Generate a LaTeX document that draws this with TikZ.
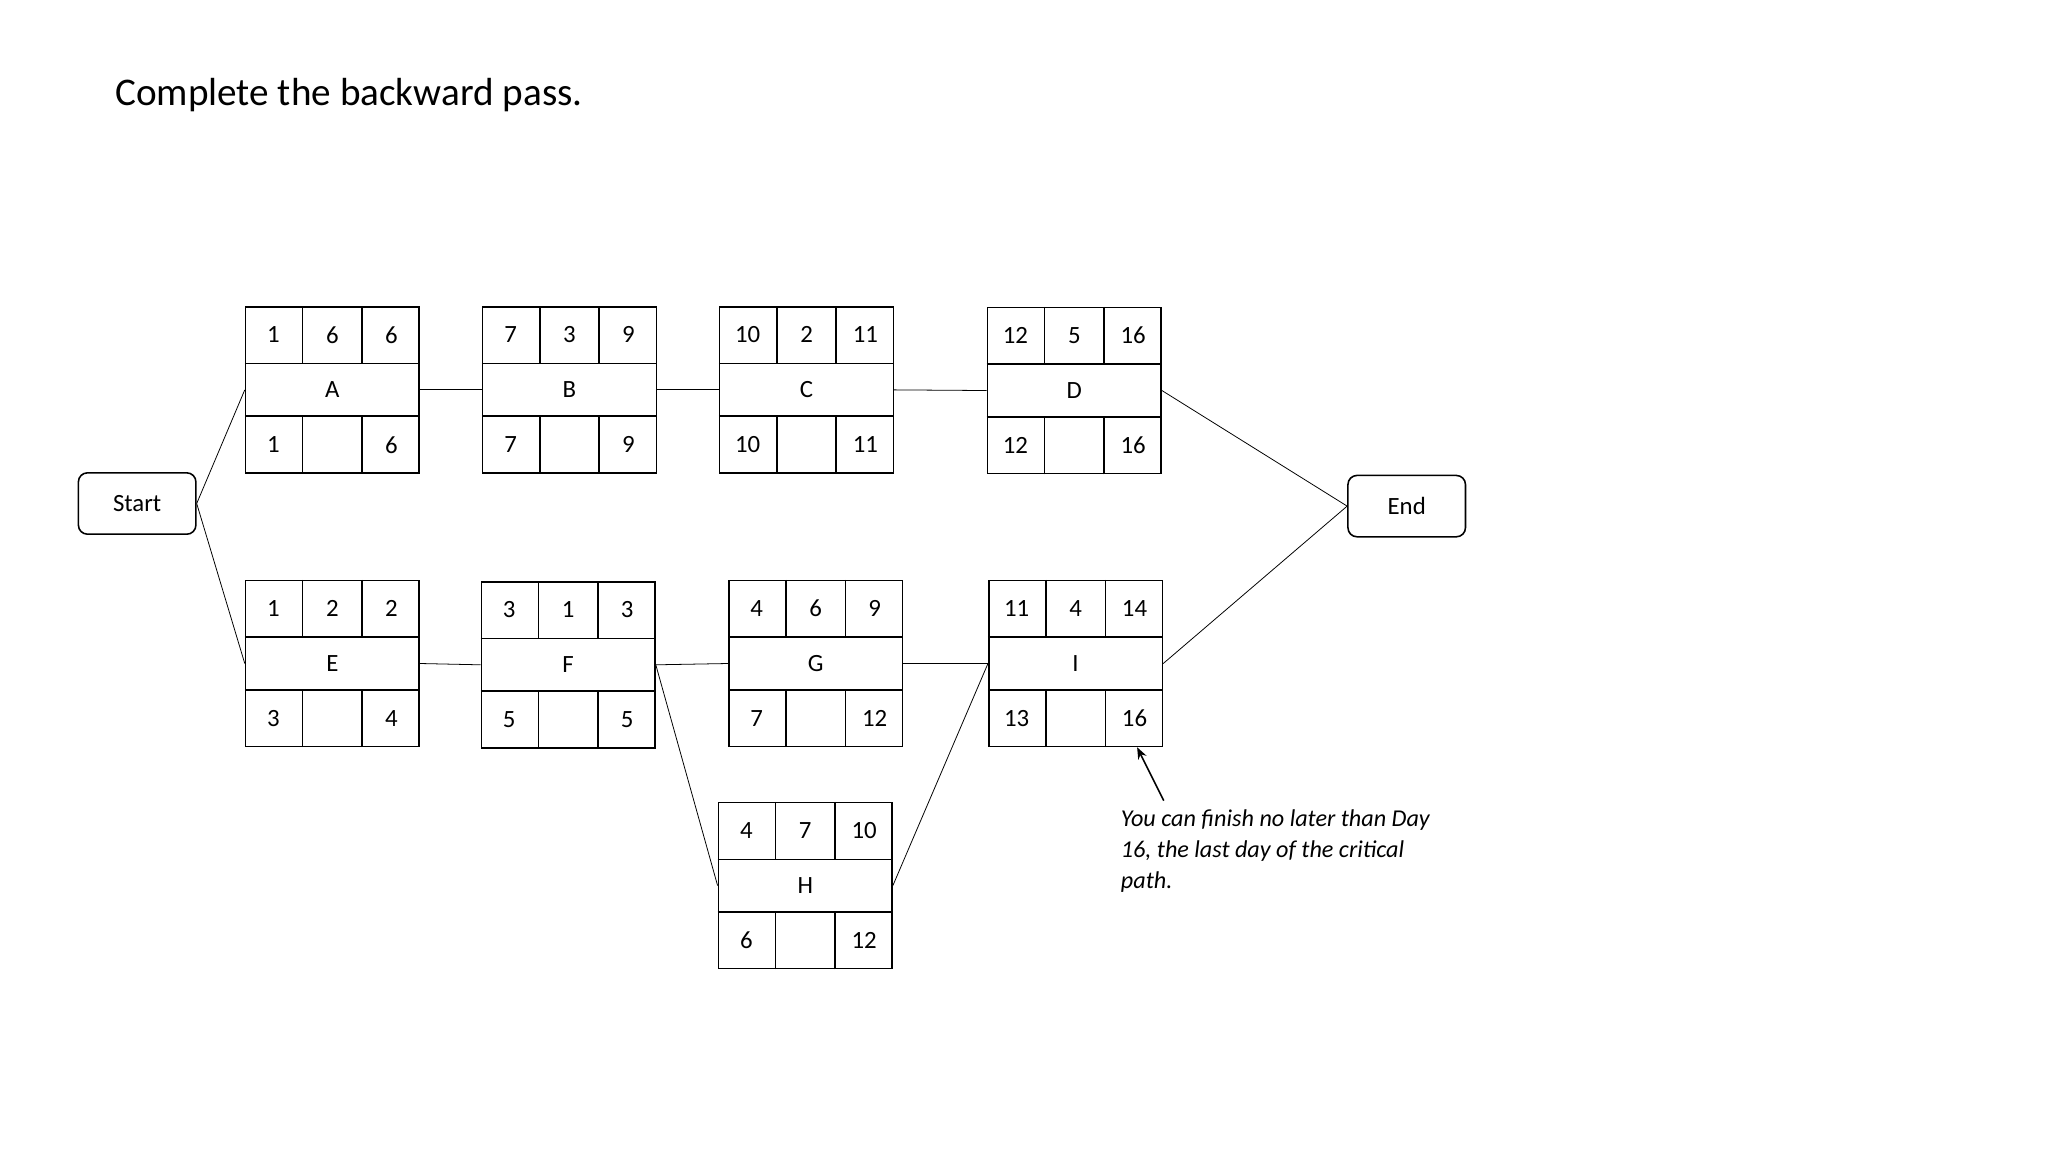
\documentclass[tikz,border=0pt]{standalone}
\usepackage{fontspec}
\setmainfont{Carlito}
\usetikzlibrary{arrows.meta}
\tikzset{
 actbox/.style={draw,line width=1.2pt,minimum width=133pt,minimum height=127pt,inner sep=0pt},
 cell/.style={inner sep=0pt,font=\fontsize{19}{22}\selectfont},
 link/.style={draw,line width=0.6pt},
 term/.style={draw,line width=1.2pt,rounded corners=7pt,minimum width=90pt,minimum height=47pt,font=\fontsize{19}{22}\selectfont}
}
\newcommand\act[8]{%
 \node[actbox] (#1) at (#2,#3) {};
 \draw[line width=1.2pt] ([yshift=-44pt]#1.north west) -- ([yshift=-44pt]#1.north east)
   ([yshift=44pt]#1.south west) -- ([yshift=44pt]#1.south east)
   ([xshift=44.33pt]#1.north west) -- ([xshift=44.33pt,yshift=-44pt]#1.north west)
   ([xshift=-44.33pt]#1.north east) -- ([xshift=-44.33pt,yshift=-44pt]#1.north east)
   ([xshift=44.33pt]#1.south west) -- ([xshift=44.33pt,yshift=44pt]#1.south west)
   ([xshift=-44.33pt]#1.south east) -- ([xshift=-44.33pt,yshift=44pt]#1.south east);
 \node[cell] (#1es) at ([xshift=22pt,yshift=-22pt]#1.north west) {#4};
 \node[cell] (#1d) at ([yshift=-22pt]#1.north) {#5};
 \node[cell] (#1ef) at ([xshift=-22pt,yshift=-22pt]#1.north east) {#6};
 \node[cell] (#1n) at (#1.center) {#1};
 \node[cell] (#1ls) at ([xshift=22pt,yshift=22pt]#1.south west) {#7};
 \node[cell] (#1lf) at ([xshift=-22pt,yshift=22pt]#1.south east) {#8};
}
\begin{document}
\begin{tikzpicture}[x=1pt,y=-1pt]
\useasboundingbox (0,0) rectangle (1568,882);
\node[anchor=base west,inner sep=0pt,font=\fontsize{30}{36}\selectfont] (title) at (88,81) {Complete the backward pass.};
\node[term] (start) at (105,385.5) {Start};
\node[term] (end) at (1077,387.5) {End};
\act{A}{254.5}{298.5}{1}{6}{6}{1}{6}
\act{B}{436}{298.5}{7}{3}{9}{7}{9}
\act{C}{617.5}{298.5}{10}{2}{11}{10}{11}
\act{D}{822.5}{299}{12}{5}{16}{12}{16}
\act{E}{254.5}{508}{1}{2}{2}{3}{4}
\act{F}{435}{509}{3}{1}{3}{5}{5}
\act{G}{624.5}{508}{4}{6}{9}{7}{12}
\act{I}{823.5}{508}{11}{4}{14}{13}{16}
\act{H}{616.5}{678}{4}{7}{10}{6}{12}
\path[link] (start.east) -- (A.west);
\path[link] (start.east) -- (E.west);
\path[link] (A.east) -- (B.west);
\path[link] (B.east) -- (C.west);
\path[link] (C.east) -- (D.west);
\path[link] (D.east) -- (end.west);
\path[link] (E.east) -- (F.west);
\path[link] (F.east) -- (G.west);
\path[link] (F.east) -- (H.west);
\path[link] (G.east) -- (I.west);
\path[link] (H.east) -- (I.west);
\path[link] (I.east) -- (end.west);
\coordinate (tail) at (891,613);
\draw[line width=1.2pt,-{Stealth[length=9pt,width=7pt]}] (tail) -- ([xshift=-20pt]I.south east);
\node[anchor=north west,align=left,inner sep=0pt,font=\fontsize{18.5}{23.5}\selectfont\itshape] (note) at (858,620) {You can finish no later than Day\\16, the last day of the critical\\path.};
\end{tikzpicture}
\end{document}
